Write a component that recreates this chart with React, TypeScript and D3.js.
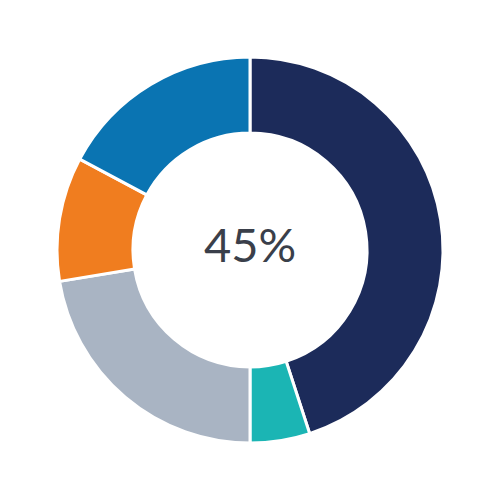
import { useEffect, useRef } from "react"
import * as d3 from "d3"

const categories = ["A", "B", "C", "D", "E"]
const values = [45, 5, 22.4, 10.4, 17.2]
const colors = ["#1c2b5a", "#1bb5b4", "#a9b4c3", "#f07d1f", "#0a74b2"]
const centerLabel = "45%"

const App = () => {
  const svgRef = useRef<SVGSVGElement | null>(null)

  useEffect(() => {
    const width = 500
    const height = 500
    const outer = 193
    const inner = 117

    const svg = d3.select(svgRef.current)
    svg.selectAll("*").remove()
    svg.attr("width", width).attr("height", height)

    const g = svg.append("g").attr("transform", `translate(${width / 2},${height / 2})`)

    const pie = d3
      .pie<number>()
      .sort(null)
      .value((d) => d)
    const arc = d3.arc<d3.PieArcDatum<number>>().innerRadius(inner).outerRadius(outer)

    g.selectAll("path")
      .data(pie(values))
      .enter()
      .append("path")
      .attr("d", arc)
      .attr("fill", (_, i) => colors[i])
      .attr("stroke", "#fff")
      .attr("stroke-width", 3)
      .attr("data-cat", (_, i) => categories[i])

    // center percentage
    g.append("text")
      .attr("text-anchor", "middle")
      .attr("y", -4)
      .attr("dy", "0.35em")
      .attr("font-family", "Lato")
      .attr("font-weight", 400)
      .attr("font-size", 47)
      .attr("fill", "#3a3f4a")
      .text(centerLabel)
  }, [])

  return (
    <svg
      ref={svgRef}
      style={{ position: "absolute", left: 0, top: 0, background: "#fff" }}
    ></svg>
  )
}

export default App
